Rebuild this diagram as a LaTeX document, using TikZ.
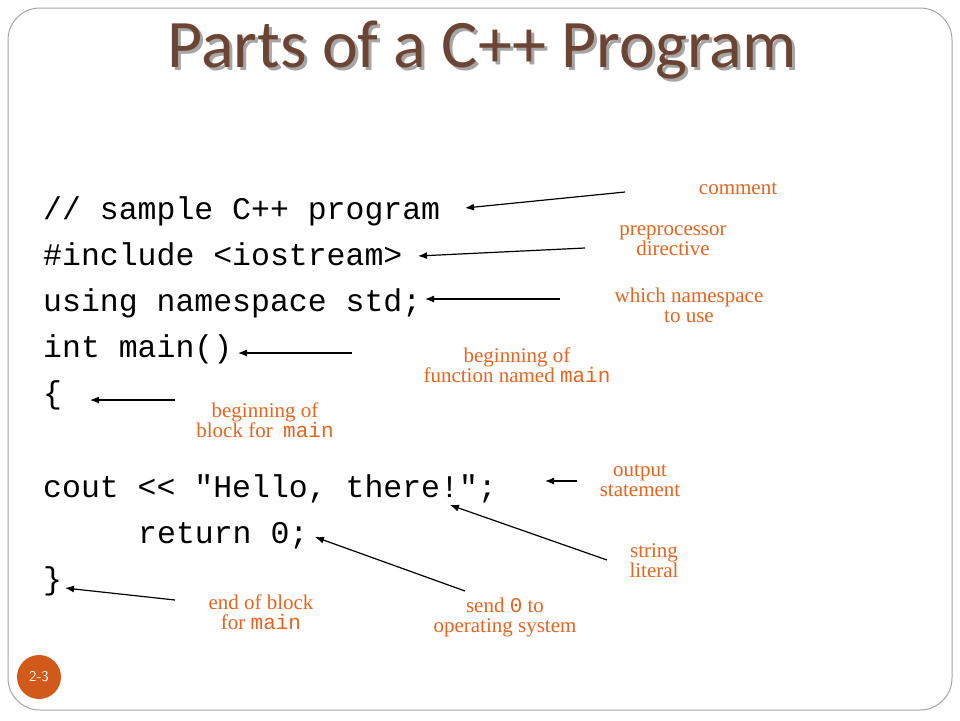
\documentclass[tikz,border=0pt]{standalone}
\usepackage{fontspec}
\usetikzlibrary{arrows.meta}
\setmainfont{Liberation Serif}
\newfontfamily\codefont{Liberation Mono}
\newfontfamily\titlefont{Carlito}
\definecolor{ann}{HTML}{E8641E}
\definecolor{ttl}{HTML}{6B4434}
\begin{document}
\begin{tikzpicture}[x=1pt,y=-1pt,
  code/.style={anchor=base west,inner sep=0,font=\codefont\fontsize{31.5}{34}\selectfont},
  note/.style={align=center,text=ann,inner sep=0,font=\fontsize{21}{23}\selectfont},
  arr/.style={-{Latex[length=9pt,width=7pt]},line width=1.2pt}]
\useasboundingbox (0,0) rectangle (960,720);
\fill[white] (0,0) rectangle (960,720);
\draw[gray!70,rounded corners=32,line width=1] (8,8) rectangle (952,710);
\node[text=black!35,font=\titlefont\fontsize{68}{70}\selectfont] at (485,53) {Parts of a C++ Program};
\node[text=ttl,font=\titlefont\fontsize{68}{70}\selectfont] (title) at (482,50) {Parts of a C++ Program};
\node[code] (l1) at (43,219) {// sample C++ program};
\node[code] (l2) at (43,265) {\#include <iostream>};
\node[code] (l3) at (43,311) {using namespace std;};
\node[code] (l4) at (43,357) {int main()};
\node[code] (l5) at (43,403) {\{};
\node[code] (l6) at (43,497) {cout << "Hello, there!";};
\node[code] (l7) at (138,543) {return 0;};
\node[code] (l8) at (43,589) {\}};
\newcommand\mm{{\codefont main}}
\node[note] (n1) at (738,189) {comment};
\node[note] (n2) at (673,241) {preprocessor\\[-3pt]directive};
\node[note] (n3) at (689,305) {which namespace\\[-3pt]to use};
\node[note] (n4) at (517,365) {beginning of\\[-3pt]function named \mm};
\node[note] (n5) at (265,420) {beginning of\\[-3pt]block for \ \mm};
\node[note] (n6) at (640,481) {output\\[-3pt]statement};
\node[note] (n7) at (654,561) {string\\[-3pt]literal};
\node[note] (n8) at (505,617) {send {\codefont 0} to\\[-3pt]operating system};
\node[note] (n9) at (261,612) {end of block\\[-3pt]for \mm};
\coordinate (t1) at (625,192); \coordinate (h1) at (465,208);
\coordinate (t2) at (585,248); \coordinate (h2) at (418,256);
\coordinate (t3) at (560,299); \coordinate (h3) at (425,299);
\coordinate (t4) at (352,353); \coordinate (h4) at (238,353);
\coordinate (t5) at (175,400); \coordinate (h5) at (90,400);
\coordinate (t6) at (577,481); \coordinate (h6) at (545,481);
\coordinate (t7) at (607,560); \coordinate (h7) at (450,505);
\coordinate (t8) at (465,591); \coordinate (h8) at (315,537);
\coordinate (t9) at (175,600); \coordinate (h9) at (65,588);
\foreach \i in {1,...,9}{\draw[arr] (t\i) -- (h\i);}
\node[circle,fill=ann!90!black,minimum size=44,inner sep=0,text=white,font=\sffamily\fontsize{15}{16}\selectfont] (badge) at (39,677) {2-3};
\end{tikzpicture}
\end{document}
